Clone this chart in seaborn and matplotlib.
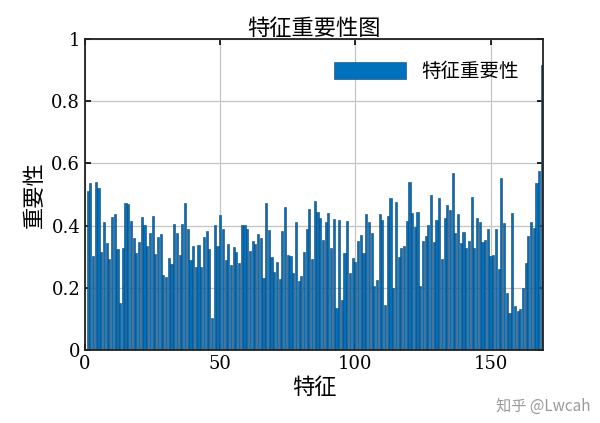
import matplotlib
matplotlib.use('Agg')
import matplotlib.pyplot as plt
import seaborn as sns
import numpy as np
import pandas as pd

# Значения важности признаков
part1 = [0.51, 0.536, 0.302, 0.539, 0.522, 0.316, 0.412, 0.343, 0.292, 0.429, 0.437, 0.324,
         0.152, 0.327, 0.474, 0.468, 0.416, 0.359, 0.313, 0.348, 0.429, 0.402, 0.334, 0.375,
         0.431, 0.309, 0.362, 0.373, 0.241, 0.234, 0.295, 0.278, 0.405, 0.375, 0.306, 0.405,
         0.474, 0.388, 0.289, 0.334, 0.268]
part2 = [0.337, 0.266, 0.364, 0.382, 0.326, 0.104, 0.402, 0.336, 0.434, 0.39, 0.289, 0.342,
         0.273, 0.332, 0.315, 0.281, 0.403, 0.403, 0.39, 0.317, 0.352, 0.34, 0.373, 0.36,
         0.23, 0.474, 0.386, 0.3, 0.252, 0.284, 0.227, 0.384, 0.461, 0.306, 0.302, 0.247,
         0.412, 0.223, 0.238, 0.316, 0.388, 0.453, 0.291, 0.479]
part3 = [0.443, 0.423, 0.354, 0.412, 0.442, 0.327, 0.421, 0.134, 0.418, 0.161, 0.313, 0.416,
         0.249, 0.295, 0.284, 0.351, 0.37, 0.311, 0.437, 0.412, 0.377, 0.206, 0.225, 0.436,
         0.418, 0.145, 0.431, 0.488, 0.198, 0.475, 0.298, 0.327, 0.336, 0.415, 0.541, 0.442,
         0.395, 0.445, 0.206, 0.352, 0.367]
part4 = [0.402, 0.498, 0.348, 0.418, 0.488, 0.292, 0.423, 0.466, 0.45, 0.569, 0.375, 0.437,
         0.343, 0.38, 0.327, 0.352, 0.493, 0.327, 0.426, 0.413, 0.346, 0.354, 0.388, 0.302,
         0.305, 0.388, 0.26, 0.552, 0.407, 0.182, 0.12, 0.442, 0.142, 0.126, 0.131, 0.198,
         0.281, 0.365, 0.41, 0.391, 0.536, 0.577, 0.916]
importance = part1 + part2 + part3 + part4
features = list(range(1, len(importance) + 1))

x_ticks = [0, 50, 100, 150]
y_ticks = [0, 0.2, 0.4, 0.6, 0.8, 1]
y_ticklabels = ['0', '0.2', '0.4', '0.6', '0.8', '1']

cjk = 'Noto Sans CJK SC'
df = pd.DataFrame({'feature': features, 'importance': importance})

fig = plt.figure(figsize=(6, 4.23), dpi=100)
ax = fig.add_axes([85 / 600, 1 - 350 / 423, (543 - 85) / 600, (350 - 39) / 423])

sns.barplot(data=df, x='feature', y='importance', native_scale=True, width=0.8,
            color='#0072BD', edgecolor='#1a3f66', linewidth=0.4, saturation=1,
            label='特征重要性', ax=ax, zorder=2)

ax.set_xlim(0, len(importance) + 0.4)
ax.set_ylim(0, 1)
ax.set_xticks(x_ticks)
ax.set_yticks(y_ticks)
ax.set_yticklabels(y_ticklabels)
ax.grid(True, color='#c4c4c4', linewidth=0.9, zorder=0)
ax.set_axisbelow(True)
ax.tick_params(direction='in', length=4, labelsize=13, top=True, right=True, width=1.2)
for lab in ax.get_xticklabels() + ax.get_yticklabels():
    lab.set_fontfamily('DejaVu Serif')
for s in ax.spines.values():
    s.set_linewidth(1.3)
    s.set_color('#222222')

ax.set_title('特征重要性图', fontfamily=cjk, fontsize=16, pad=3)
ax.set_xlabel('特征', fontfamily=cjk, fontsize=16, labelpad=2)
ax.set_ylabel('重要性', fontfamily=cjk, fontsize=16, labelpad=4)

leg = ax.legend(loc='upper right', prop={'family': cjk, 'size': 14}, frameon=False,
                handlelength=3.7, handleheight=0.9, bbox_to_anchor=(0.985, 0.985))

fig.text(0.985, 0.03, '知乎 @Lwcah', fontfamily=cjk, fontsize=11, color='#9a9a9a', ha='right')

plt.savefig('out.png', dpi=100, facecolor='white')
plt.close()
